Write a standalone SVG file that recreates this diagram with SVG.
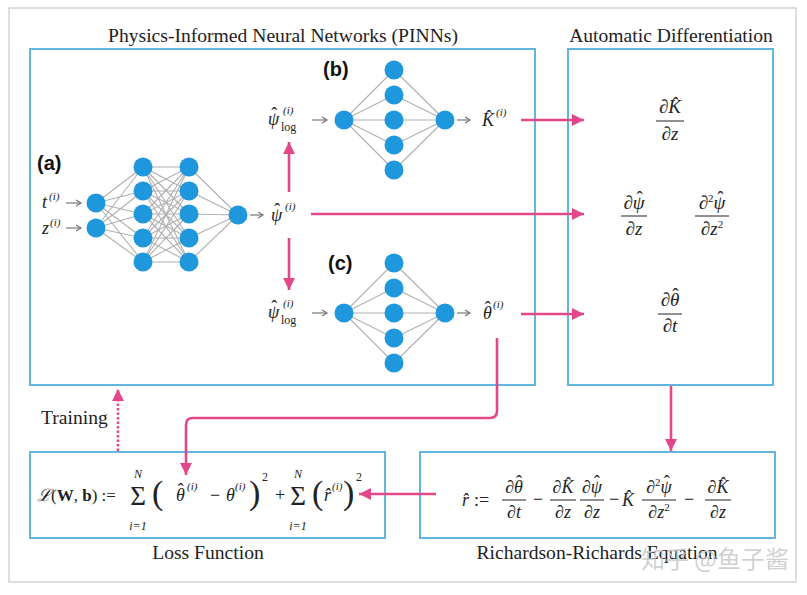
<svg xmlns="http://www.w3.org/2000/svg" width="807" height="595" viewBox="0 0 807 595">
<style>
.title{font-family:"Liberation Serif","DejaVu Serif",serif;font-size:19.6px;fill:#222;}
.m{font-family:"Liberation Serif","DejaVu Serif",serif;font-style:italic;font-size:18px;fill:#222;}
.ad{font-size:19px;}
.mu{font-family:"Liberation Serif","DejaVu Serif",serif;font-size:18px;fill:#222;}
.sup{font-family:"Liberation Serif","DejaVu Serif",serif;font-style:italic;font-size:11px;fill:#222;}
.supu{font-family:"Liberation Serif","DejaVu Serif",serif;font-style:normal;font-size:11px;fill:#222;}
.big{font-size:27px;}
.par{font-size:34px;}
.lim{font-size:12px;}
.lab{font-family:"Liberation Sans",Arial,sans-serif;font-weight:bold;font-size:20px;fill:#111;}
.box{fill:none;stroke:#62b6de;stroke-width:2;}
.n{fill:#1f97dd;}
.w{stroke:#b0b0b0;stroke-width:1.1;fill:none;}
.pink{stroke:#e3478a;stroke-width:2.6;fill:none;}
.gray{stroke:#777;stroke-width:1.2;fill:none;}
.fl{stroke:#222;stroke-width:1;}
.c{text-anchor:middle;}
.hat{font-style:normal;}
</style>
<defs>
<marker id="ph" markerUnits="userSpaceOnUse" markerWidth="14" markerHeight="12" refX="12" refY="6" orient="auto">
<path d="M0,0 L12,6 L0,12 z" fill="#e3478a"/>
</marker>
<marker id="gh" markerUnits="userSpaceOnUse" markerWidth="8" markerHeight="8" refX="6" refY="4" orient="auto">
<path d="M1,1 L6,4 L1,7" fill="none" stroke="#777" stroke-width="1.2"/>
</marker>
</defs>
<rect x="0" y="0" width="807" height="595" fill="#fff"/>
<rect x="9" y="8" width="787" height="574" fill="none" stroke="#bdbdbd" stroke-width="1"/>

<g id="pinns-box">
<rect class="box" x="30" y="49" width="505" height="336"/>
<text class="title c" x="283" y="42">Physics-Informed Neural Networks (PINNs)</text>
</g>
<g id="ad-box">
<rect class="box" x="568" y="49" width="205" height="336"/>
<text class="title c" x="671" y="42">Automatic Differentiation</text>
<text class="m ad c" x="670" y="113">∂K̂</text>
<line class="fl" x1="656" y1="121" x2="684" y2="121"/>
<text class="m ad c" x="670" y="140">∂z</text>
<text class="m ad c" x="634" y="209">∂ψ<tspan class="hat" dx="-8" dy="-5">ˆ</tspan></text>
<line class="fl" x1="621" y1="216" x2="647" y2="216"/>
<text class="m ad c" x="634" y="235">∂z</text>
<text class="m ad c" x="712" y="209">∂<tspan class="supu" dy="-7">2</tspan><tspan dy="7">ψ</tspan><tspan class="hat" dx="-8" dy="-5">ˆ</tspan></text>
<line class="fl" x1="695" y1="216" x2="729" y2="216"/>
<text class="m ad c" x="712" y="235">∂z<tspan class="supu" dy="-7">2</tspan></text>
<text class="m ad c" x="670" y="306">∂θ<tspan class="hat" dx="-7" dy="-5">ˆ</tspan></text>
<line class="fl" x1="658" y1="314" x2="682" y2="314"/>
<text class="m ad c" x="670" y="332">∂t</text>
</g>
<g id="loss-box">
<rect class="box" x="30" y="452" width="355" height="86"/>
<text class="title c" x="208" y="559">Loss Function</text>
<text class="mu" x="37" y="501" style="font-size:17px"><tspan font-style="italic">ℒ</tspan>(<tspan font-weight="bold">W</tspan>, <tspan font-weight="bold">b</tspan>) :=</text>
<text class="mu big c" x="138" y="505">Σ</text>
<text class="sup lim c" x="138" y="478">N</text>
<text class="sup lim c" x="138" y="530">i=1</text>
<text class="mu par" x="152" y="504">(</text>
<text class="m" x="176" y="501">θ<tspan class="hat" dx="-7" dy="-5">ˆ</tspan></text>
<text class="sup" x="187" y="490">(i)</text>
<text class="mu" x="210" y="501">−</text>
<text class="m" x="226" y="501">θ</text>
<text class="sup" x="235" y="490">(i)</text>
<text class="mu par" x="249" y="504">)</text>
<text class="supu lim" x="262" y="481">2</text>
<text class="mu" x="275" y="501">+</text>
<text class="mu big c" x="298" y="505">Σ</text>
<text class="sup lim c" x="298" y="478">N</text>
<text class="sup lim c" x="298" y="530">i=1</text>
<text class="mu par" x="312" y="504">(</text>
<text class="m" x="324" y="501">r̂</text>
<text class="sup" x="332" y="490">(i)</text>
<text class="mu par" x="343" y="504">)</text>
<text class="supu lim" x="356" y="481">2</text>
</g>
<g id="rr-box">
<rect class="box" x="420" y="452" width="355" height="86"/>
<text class="title c" x="597" y="559">Richardson-Richards Equation</text>
<text class="m" x="462" y="506">r̂</text>
<text class="mu" x="474" y="506">:=</text>
<text class="m c" x="514" y="493">∂θ<tspan class="hat" dx="-7" dy="-5">ˆ</tspan></text>
<line class="fl" x1="502" y1="500" x2="526" y2="500"/>
<text class="m c" x="514" y="518">∂t</text>
<text class="mu c" x="538" y="505">−</text>
<text class="m c" x="563" y="493">∂K̂</text>
<line class="fl" x1="550" y1="500" x2="576" y2="500"/>
<text class="m c" x="563" y="518">∂z</text>
<text class="m c" x="592" y="493">∂ψ<tspan class="hat" dx="-8" dy="-5">ˆ</tspan></text>
<line class="fl" x1="580" y1="500" x2="604" y2="500"/>
<text class="m c" x="592" y="518">∂z</text>
<text class="mu c" x="614" y="505">−</text>
<text class="m" x="622" y="506">K̂</text>
<text class="m c" x="659" y="493">∂<tspan class="supu" dy="-7">2</tspan><tspan dy="7">ψ</tspan><tspan class="hat" dx="-8" dy="-5">ˆ</tspan></text>
<line class="fl" x1="642" y1="500" x2="676" y2="500"/>
<text class="m c" x="659" y="518">∂z<tspan class="supu" dy="-7">2</tspan></text>
<text class="mu c" x="689" y="505">−</text>
<text class="m c" x="718" y="493">∂K̂</text>
<line class="fl" x1="705" y1="500" x2="731" y2="500"/>
<text class="m c" x="718" y="518">∂z</text>
</g>

<g id="connectors">
<g id="net-a-weights" class="w">
<path d="M96,203 L143,167 M96,203 L143,191 M96,203 L143,214 M96,203 L143,238 M96,203 L143,262 M96,228 L143,167 M96,228 L143,191 M96,228 L143,214 M96,228 L143,238 M96,228 L143,262"/>
<path d="M143,167 L189,167 M143,167 L189,191 M143,167 L189,214 M143,167 L189,238 M143,167 L189,262 M143,191 L189,167 M143,191 L189,191 M143,191 L189,214 M143,191 L189,238 M143,191 L189,262 M143,214 L189,167 M143,214 L189,191 M143,214 L189,214 M143,214 L189,238 M143,214 L189,262 M143,238 L189,167 M143,238 L189,191 M143,238 L189,214 M143,238 L189,238 M143,238 L189,262 M143,262 L189,167 M143,262 L189,191 M143,262 L189,214 M143,262 L189,238 M143,262 L189,262"/>
<path d="M189,167 L238,215 M189,191 L238,215 M189,214 L238,215 M189,238 L238,215 M189,262 L238,215"/>
</g>
<g id="net-b-weights" class="w">
<path d="M344,120 L394,70 M344,120 L394,95 M344,120 L394,120 M344,120 L394,145 M344,120 L394,170 M394,70 L445,120 M394,95 L445,120 M394,120 L445,120 M394,145 L445,120 M394,170 L445,120"/>
</g>
<g id="net-c-weights" class="w">
<path d="M344,313 L394,263 M344,313 L394,288 M344,313 L394,313 M344,313 L394,338 M344,313 L394,363 M394,263 L445,313 M394,288 L445,313 M394,313 L445,313 M394,338 L445,313 M394,363 L445,313"/>
</g>
<g id="gray-arrows" class="gray">
<line x1="66" y1="203" x2="81" y2="203" marker-end="url(#gh)"/>
<line x1="66" y1="228" x2="81" y2="228" marker-end="url(#gh)"/>
<line x1="250" y1="215" x2="263" y2="215" marker-end="url(#gh)"/>
<line x1="312" y1="120" x2="327" y2="120" marker-end="url(#gh)"/>
<line x1="457" y1="120" x2="470" y2="120" marker-end="url(#gh)"/>
<line x1="312" y1="313" x2="327" y2="313" marker-end="url(#gh)"/>
<line x1="457" y1="313" x2="470" y2="313" marker-end="url(#gh)"/>
</g>
<g id="pink-arrows" class="pink">
<line x1="289" y1="192" x2="289" y2="142" marker-end="url(#ph)"/>
<line x1="289" y1="238" x2="289" y2="290" marker-end="url(#ph)"/>
<line x1="311" y1="214" x2="584" y2="214" marker-end="url(#ph)"/>
<line x1="521" y1="120" x2="584" y2="120" marker-end="url(#ph)"/>
<line x1="521" y1="314" x2="584" y2="314" marker-end="url(#ph)"/>
<path d="M497,338 V411 Q497,418 490,418 H193 Q186,418 186,425 V475" marker-end="url(#ph)"/>
<line x1="671" y1="386" x2="671" y2="451" marker-end="url(#ph)"/>
<line x1="436" y1="494" x2="359" y2="494" marker-end="url(#ph)"/>
<line x1="118" y1="451" x2="118" y2="389" stroke-dasharray="2.5,2" marker-end="url(#ph)"/>
</g>
</g>

<g id="net-a">
<text class="lab" x="37" y="170">(a)</text>
<text class="m" x="42" y="208">t</text><text class="sup" x="49" y="200">(i)</text>
<text class="m" x="42" y="234">z</text><text class="sup" x="50" y="226">(i)</text>
<circle class="n" cx="96" cy="203" r="9.5"/><circle class="n" cx="96" cy="228" r="9.5"/>
<circle class="n" cx="143" cy="167" r="9.5"/><circle class="n" cx="143" cy="191" r="9.5"/><circle class="n" cx="143" cy="214" r="9.5"/><circle class="n" cx="143" cy="238" r="9.5"/><circle class="n" cx="143" cy="262" r="9.5"/>
<circle class="n" cx="189" cy="167" r="9.5"/><circle class="n" cx="189" cy="191" r="9.5"/><circle class="n" cx="189" cy="214" r="9.5"/><circle class="n" cx="189" cy="238" r="9.5"/><circle class="n" cx="189" cy="262" r="9.5"/>
<circle class="n" cx="238" cy="215" r="9.5"/>
<text class="m" x="271" y="221">ψ<tspan class="hat" dx="-8" dy="-5">ˆ</tspan></text><text class="sup" x="285" y="210">(i)</text>
</g>
<g id="net-b">
<text class="lab" x="323" y="76">(b)</text>
<text class="m" x="268" y="125">ψ<tspan class="hat" dx="-8" dy="-5">ˆ</tspan></text><text class="sup" x="283" y="114">(i)</text><text class="supu lim" x="281" y="131">log</text>
<circle class="n" cx="344" cy="120" r="9.5"/>
<circle class="n" cx="394" cy="70" r="9.5"/><circle class="n" cx="394" cy="95" r="9.5"/><circle class="n" cx="394" cy="120" r="9.5"/><circle class="n" cx="394" cy="145" r="9.5"/><circle class="n" cx="394" cy="170" r="9.5"/>
<circle class="n" cx="445" cy="120" r="9.5"/>
<text class="m" x="482" y="126">K̂</text><text class="sup" x="496" y="116">(i)</text>
</g>
<g id="net-c">
<text class="lab" x="328" y="270">(c)</text>
<text class="m" x="268" y="318">ψ<tspan class="hat" dx="-8" dy="-5">ˆ</tspan></text><text class="sup" x="283" y="307">(i)</text><text class="supu lim" x="281" y="324">log</text>
<circle class="n" cx="344" cy="313" r="9.5"/>
<circle class="n" cx="394" cy="263" r="9.5"/><circle class="n" cx="394" cy="288" r="9.5"/><circle class="n" cx="394" cy="313" r="9.5"/><circle class="n" cx="394" cy="338" r="9.5"/><circle class="n" cx="394" cy="363" r="9.5"/>
<circle class="n" cx="445" cy="313" r="9.5"/>
<text class="m" x="483" y="319">θ<tspan class="hat" dx="-7" dy="-5">ˆ</tspan></text><text class="sup" x="493" y="308">(i)</text>
</g>
<g id="training-label">
<text class="title" x="41" y="424">Training</text>
</g>
<g id="watermark">
<text x="715" y="568" text-anchor="middle" font-family="'Noto Sans CJK SC','Liberation Sans',sans-serif" font-size="24" fill="#c8c8c8" fill-opacity="0.85">知乎 @鱼子酱</text>
</g>
</svg>
